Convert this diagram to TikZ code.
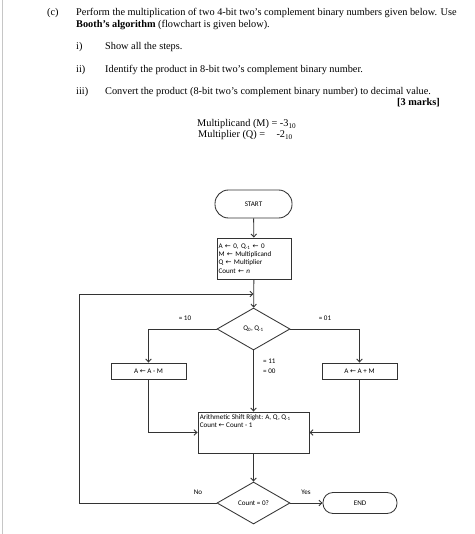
\documentclass[tikz,border=0pt]{standalone}
\usepackage{fontspec}
\setmainfont{Liberation Serif}
\newfontfamily\flowfont{Carlito}
\newfontfamily\arfont{DejaVu Sans}
\newcommand{\lar}{{\arfont\char"2190}}
\usetikzlibrary{shapes.geometric,arrows.meta}
\begin{document}
\begin{tikzpicture}[x=1pt,y=-1pt,
  hdr/.style={anchor=base west,inner sep=0pt,font=\fontsize{10.3}{12}\selectfont},
  ln/.style={draw=black!80,line width=0.85pt},
  arr/.style={ln,-{Straight Barb[length=3pt,width=5.5pt]}},
  ff/.style={font=\flowfont\fontsize{7.1}{8.2}\selectfont},
  term/.style={ff,ln,rectangle,minimum width=77pt,minimum height=28pt,inner sep=0pt},
  proc/.style={ff,ln,rectangle,inner sep=1.5pt},
  dec/.style={ff,ln,diamond,shape aspect=1.74,minimum width=73pt,minimum height=42pt,inner sep=0pt},
  lbl/.style={ff,inner sep=0pt}]
\useasboundingbox (0,0) rectangle (474,534);
\fill[white] (0,0) rectangle (474,534);
\draw[gray!45,line width=1.2pt] (2.3,0) -- (2.3,534);
% header
\node[hdr] (c) at (47,16) {(c)};
\node[hdr] (l1) at (76,16) {Perform the multiplication of two 4-bit two’s complement binary numbers given below. Use};
\node[hdr] (l2) at (76,28) {\textbf{Booth’s algorithm} (flowchart is given below).};
\node[hdr] (r1) at (76,50) {i)};
\node[hdr] (t1) at (105,50) {Show all the steps.};
\node[hdr] (r2) at (76,73) {ii)};
\node[hdr] (t2) at (105,73) {Identify the product in 8-bit two’s complement binary number.};
\node[hdr] (r3) at (76,95) {iii)};
\node[hdr] (t3) at (105,95) {Convert the product (8-bit two’s complement binary number) to decimal value.};
\node[hdr,anchor=base east] (mk) at (440,106) {\textbf{[3 marks]}};
\node[hdr] (m1) at (197,127) {Multiplicand (M) = -3\textsubscript{10}};
\node[hdr] (m2) at (198,138) {Multiplier (Q) =\hspace{1.1em}-2\textsubscript{10}};
% flowchart
\node[term,rounded corners=13.5pt] (start) at (253.5,204) {START};
\node[proc,minimum width=74pt,minimum height=41pt,align=left,text width=71pt] (init) at (254,258.5)
  {A \lar\ 0, Q\textsubscript{-1} \lar\ 0\\M \lar\ Multiplicand\\Q \lar\ Multiplier\\Count \lar\ \textit{n}};
\node[dec] (d1) at (253.5,329) {Q\textsubscript{0}, Q\textsubscript{-1}};
\node[proc,minimum width=75pt,minimum height=16pt] (sub) at (148.5,371) {A \lar\ A - M};
\node[proc,minimum width=75pt,minimum height=16pt] (add) at (359.5,371) {A \lar\ A + M};
\node[proc,minimum width=111pt,minimum height=41pt] (shift) at (253.5,432.5) {};
\node[ff,anchor=north west,align=left,inner sep=0pt] (shiftt) at ([xshift=2pt,yshift=-3pt]shift.north west)
  {Arithmetic Shift Right: A, Q, Q\textsubscript{-1}\\Count \lar\ Count - 1};
\node[dec] (d2) at (253.5,503) {Count = 0?};
\node[term,rounded corners=10pt,minimum width=74pt,minimum height=21pt] (end) at (360,503) {END};
\coordinate (lp) at (79,294);
\coordinate (j) at (253.5,294);
% labels
\node[lbl] (l10) at (185,318) {= 10};
\node[lbl] (l01) at (325,318) {= 01};
\node[lbl,anchor=west] (l11) at (263,361) {= 11};
\node[lbl,anchor=west] (l00) at (263,371) {= 00};
\node[lbl] (lno) at (198,492) {No};
\node[lbl] (lyes) at (306,492) {Yes};
% connectors
\draw[arr] (start) -- (init);
\draw[arr] (init) -- (d1);
\draw[arr] (d2.west) -| (lp) -- (j);
\draw[arr] (d1.west) -| (sub.north);
\draw[arr] (d1.east) -| (add.north);
\draw[arr] (d1.south) -- (shift.north);
\draw[arr] (sub.south) |- (shift.west);
\draw[arr] (add.south) |- (shift.east);
\draw[arr] (shift) -- (d2);
\draw[arr] (d2.east) -- (end.west);
\end{tikzpicture}
\end{document}
